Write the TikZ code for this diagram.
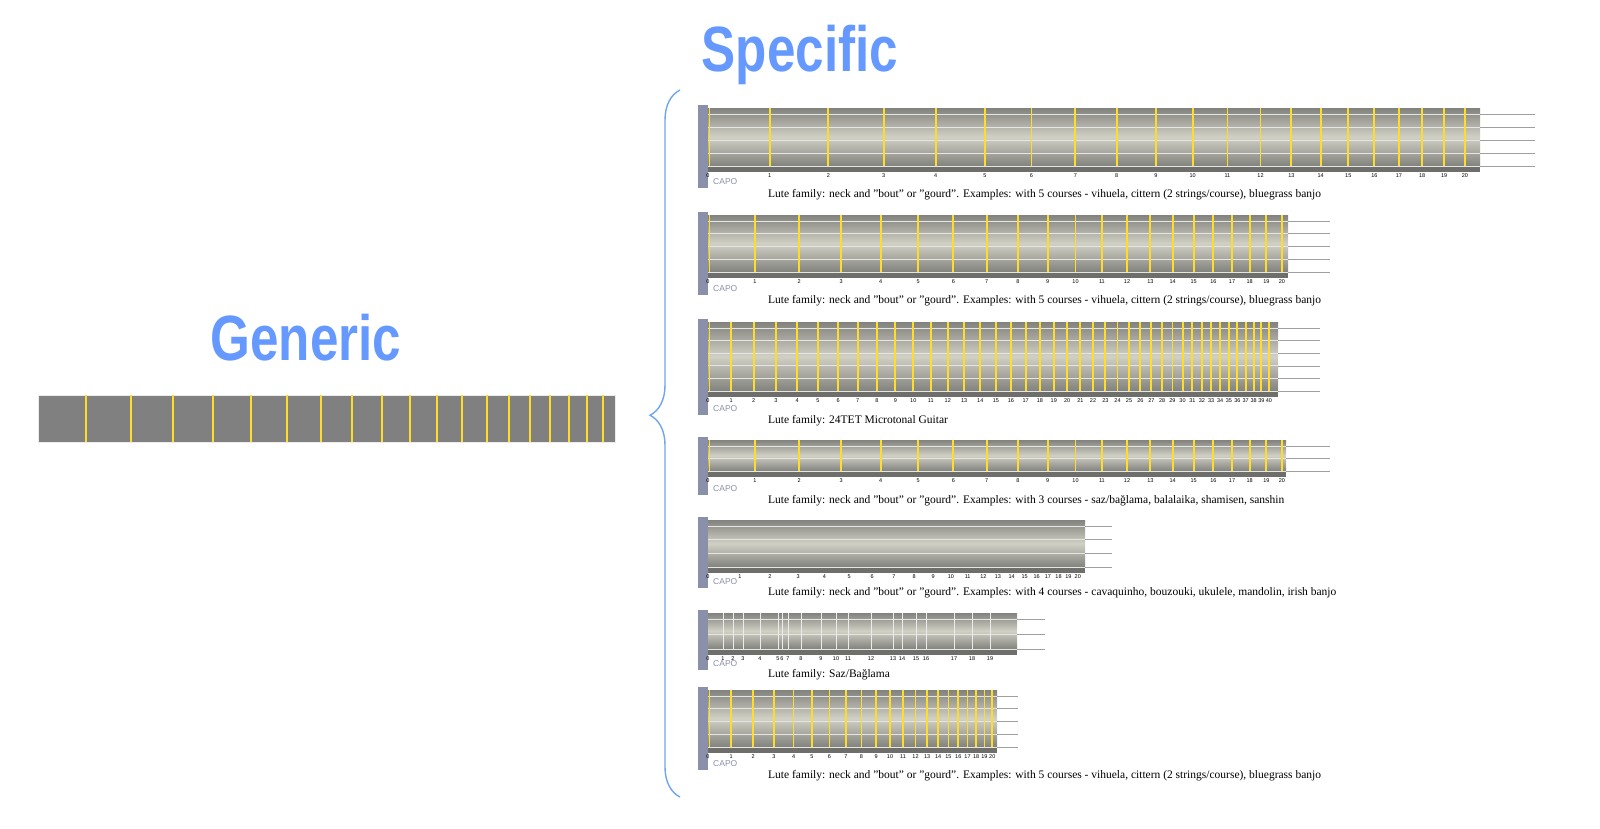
\documentclass[tikz,border=0pt]{standalone}
\usepackage{fontspec}
\setmainfont{Liberation Serif}
\setsansfont{Liberation Sans}
\usetikzlibrary{decorations.pathreplacing}
\definecolor{ttl}{RGB}{102,153,255}
\definecolor{brc}{RGB}{110,165,240}
\definecolor{bgA}{RGB}{130,130,126}
\definecolor{bgB}{RGB}{208,208,196}
\definecolor{capoc}{RGB}{138,143,170}
\definecolor{fretc}{RGB}{255,220,40}
\tikzset{
  fretline/.style={draw=fretc,line width=1.9pt},
  sazfret/.style={draw=white!85!gray,line width=1pt},
  fnum/.style={font=\sffamily\fontsize{5.5}{6}\selectfont,inner sep=0pt},
  capolbl/.style={font=\sffamily\fontsize{8.5}{9}\selectfont,text=capoc,anchor=west,inner sep=0pt},
  caption/.style={font=\fontsize{11.5}{13}\selectfont,anchor=west,inner sep=0pt},
  title/.style={font=\sffamily\bfseries\fontsize{64}{64}\selectfont,text=ttl,inner sep=0pt},
}
\newcommand{\boardbase}[7]{% ytop ybot xend strend nstr capobot name
  \shade[top color=bgA, bottom color=bgA, middle color=bgB] (708,#1) rectangle (#3,#2-6);
  \fill[bgA!85!black] (708,#2-6) rectangle (#3,#2);
  \node[inner sep=0pt] (#7) at (708,#1) {};
  \foreach \i in {1,...,#5}{
    \pgfmathsetmacro\yy{#1+6+(#2-#1-12)*(\i-1)/(#5-1)}
    \draw[white!80!gray,line width=0.8pt] (708,\yy)--(#3,\yy);
    \draw[gray!75,line width=0.6pt] (#3,\yy)--(#4,\yy);
  }
  \fill[capoc] (698,#1-3) rectangle (708,#6);
  \node[fnum] at (708,#2+4) {0};
  \node[capolbl] at (713,#6-6) {CAPO};
}
\newcommand{\etfrets}[5]{% ytop ybot L div nfrets
  \draw[fretline] (709.5,#1)--(709.5,#2-6);
  \foreach \n in {1,...,#5}{
    \pgfmathsetmacro\xx{708+#3*(1-2^(-\n/#4))}
    \draw[fretline] (\xx,#1)--(\xx,#2-6);
    \node[fnum] at (\xx,#2+4) {\n};
  }
}
\begin{document}
\begin{tikzpicture}[x=1pt,y=-1pt]
\useasboundingbox (0,0) rectangle (1600,828);
% titles
\node[title] (spec) at (800,55) {\scalebox{0.8}[1]{Specific}};
\node[title] (gen) at (306,338) {\scalebox{0.8}[1]{Generic}};
% generic board
\fill[gray!100!black,draw=white!85!gray,line width=0.6pt] (38,395) rectangle (615,442);
\node[inner sep=0pt] (genboard) at (326,418) {};
\foreach \x in {86,131,173,213,251,287,321,352,382,410,437,462,487,509,530,550,569,587,603}
  \draw[draw=fretc,line width=1.5pt] (\x,395)--(\x,442);
% brace
\coordinate (bb) at (680,797);
\coordinate (bt) at (680,90);
\draw[brc,line width=1.4pt,decorate,decoration={brace,amplitude=30pt,aspect=0.54}] (bb) -- (bt);
% board 1
\boardbase{108}{172}{1480}{1535}{5}{188}{b1}
\etfrets{108}{172}{1105}{12}{20}
\node[caption] (c1) at (768,195) {Lute family: neck and "bout" or "gourd". Examples: with 5 courses - vihuela, cittern (2 strings/course), bluegrass banjo};
% board 2
\boardbase{215}{278}{1288}{1330}{5}{295}{b2}
\etfrets{215}{278}{838}{12}{20}
\node[caption] (c2) at (768,301) {Lute family: neck and "bout" or "gourd". Examples: with 5 courses - vihuela, cittern (2 strings/course), bluegrass banjo};
% board 3
\boardbase{322}{397}{1278}{1320}{6}{415}{b3}
\etfrets{322}{397}{819}{24}{40}
\node[caption] (c3) at (768,421) {Lute family: 24TET Microtonal Guitar};
% board 4
\boardbase{440}{477}{1286}{1330}{3}{495}{b4}
\etfrets{440}{477}{838}{12}{20}
\node[caption] (c4) at (768,501) {Lute family: neck and "bout" or "gourd". Examples: with 3 courses - saz/ba\u{g}lama, balalaika, shamisen, sanshin};
% board 5
\boardbase{520}{573}{1085}{1112}{4}{588}{b5}
\foreach \n in {1,...,20}{
  \pgfmathsetmacro\xx{708+32*(1-0.937^\n)/0.063}
  \node[fnum] at (\xx,577) {\n};
}
\node[caption] (c5) at (768,593) {Lute family: neck and "bout" or "gourd". Examples: with 4 courses - cavaquinho, bouzouki, ukulele, mandolin, irish banjo};
% board 6 saz
\boardbase{613}{655}{1017}{1045}{3}{670}{b6}
\foreach \x/\n in {723/1,733/2,743/3,760/4,778/5,782/6,788/7,801/8,821/9,836/10,848/11,871/12,893/13,902/14,916/15,926/16,954/17,972/18,990/19}{
  \draw[sazfret] (\x,613)--(\x,649);
  \node[fnum] at (\x,659) {\n};
}
\node[caption] (c6) at (768,675) {Lute family: Saz/Ba\u{g}lama};
% board 7
\boardbase{690}{753}{997}{1018}{5}{770}{b7}
\etfrets{690}{753}{415}{12}{20}
\node[caption] (c7) at (768,776) {Lute family: neck and "bout" or "gourd". Examples: with 5 courses - vihuela, cittern (2 strings/course), bluegrass banjo};
\end{tikzpicture}
\end{document}
